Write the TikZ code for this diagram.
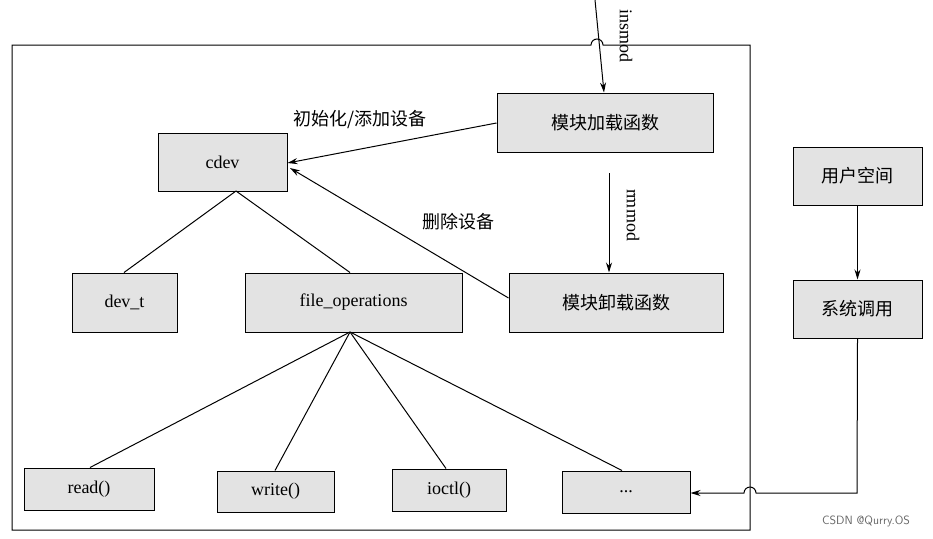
\documentclass[tikz,border=0pt]{standalone}
\usepackage{fontspec}
\setmainfont{Liberation Serif}
\newfontfamily\cjk{Noto Sans CJK SC}
\usetikzlibrary{arrows.meta}
\begin{document}
\begin{tikzpicture}[x=1pt,y=-1pt,
 box/.style={draw,fill=gray!22,line width=1pt,inner sep=0pt,font=\fontsize{18}{18}\selectfont},
 arr/.style={-{Stealth[length=10pt,width=6pt]},line width=1pt},
 ln/.style={line width=1pt}]
\useasboundingbox (0,0) rectangle (933,538);
\newcommand{\bx}[6]{\node[box,minimum width=#4-#2,minimum height=#5-#3] (#1) at ({(#2+#4)/2},{(#3+#5)/2}) {#6};}
\bx{load}{497}{93}{713}{152}{\cjk 模块加载函数}
\bx{cdev}{158}{133}{287}{191}{cdev}
\bx{devt}{72}{273}{177}{332}{dev\_t}
\bx{fops}{245}{273}{462}{332}{file\_operations}
\bx{unload}{509}{273}{723}{332}{\cjk 模块卸载函数}
\bx{user}{793}{147}{922}{205}{\cjk 用户空间}
\bx{sys}{793}{280}{922}{338}{\cjk 系统调用}
\bx{read}{24}{468}{154}{510}{read()}
\bx{write}{217}{471}{334}{512}{write()}
\bx{ioctl}{392}{469}{506}{511}{ioctl()}
\bx{dots}{562}{471}{690}{513}{...}
% frame with hop at top
\draw[ln] (12,45) -- (591,45) arc[start angle=180,end angle=360,radius=6] -- (750,45) -- (750,530) -- (12,530) -- cycle;
\coordinate (ins) at (595,0);
\draw[arr] (ins) -- (load.north -| 604,0);
\node[rotate=-90,font=\fontsize{18}{18}\selectfont] (insl) at (626,36) {insmod};
\draw[arr] (load.west |- 0,123) -- (cdev.east |- 0,163);
\node[font=\fontsize{18}{18}\selectfont\cjk] (l1) at (360,120) {初始化/添加设备};
\draw[arr] (unload.west |- 0,298) -- (290,168);
\node[font=\fontsize{18}{18}\selectfont\cjk] (l2) at (458,222) {删除设备};
\coordinate (rm1) at (609,173);
\draw[arr] (rm1) -- (unload.north -| rm1);
\node[rotate=-90,font=\fontsize{18}{18}\selectfont] (rml) at (633,215) {rmmod};
\draw[ln] (236,191) -- (devt.north -| 124,0);
\draw[ln] (236,191) -- (fops.north -| 350,0);
\coordinate (fb) at (350,332);
\draw[ln] (fb) -- (read.north -| 90,0);
\draw[ln] (fb) -- (write.north -| 275,0);
\draw[ln] (fb) -- (ioctl.north -| 446,0);
\draw[ln] (fb) -- (dots.north -| 622,0);
\draw[arr] (user) -- (sys);
\draw[arr] (sys.south) -- (857,493) -- (756,493) arc[start angle=0,end angle=-180,radius=6] -- (dots.east |- 0,493);
\node[font=\fontsize{12}{12}\selectfont\sffamily,text=gray!80!black] (wm) at (866,521) {CSDN @Qurry.OS};
\end{tikzpicture}
\end{document}
